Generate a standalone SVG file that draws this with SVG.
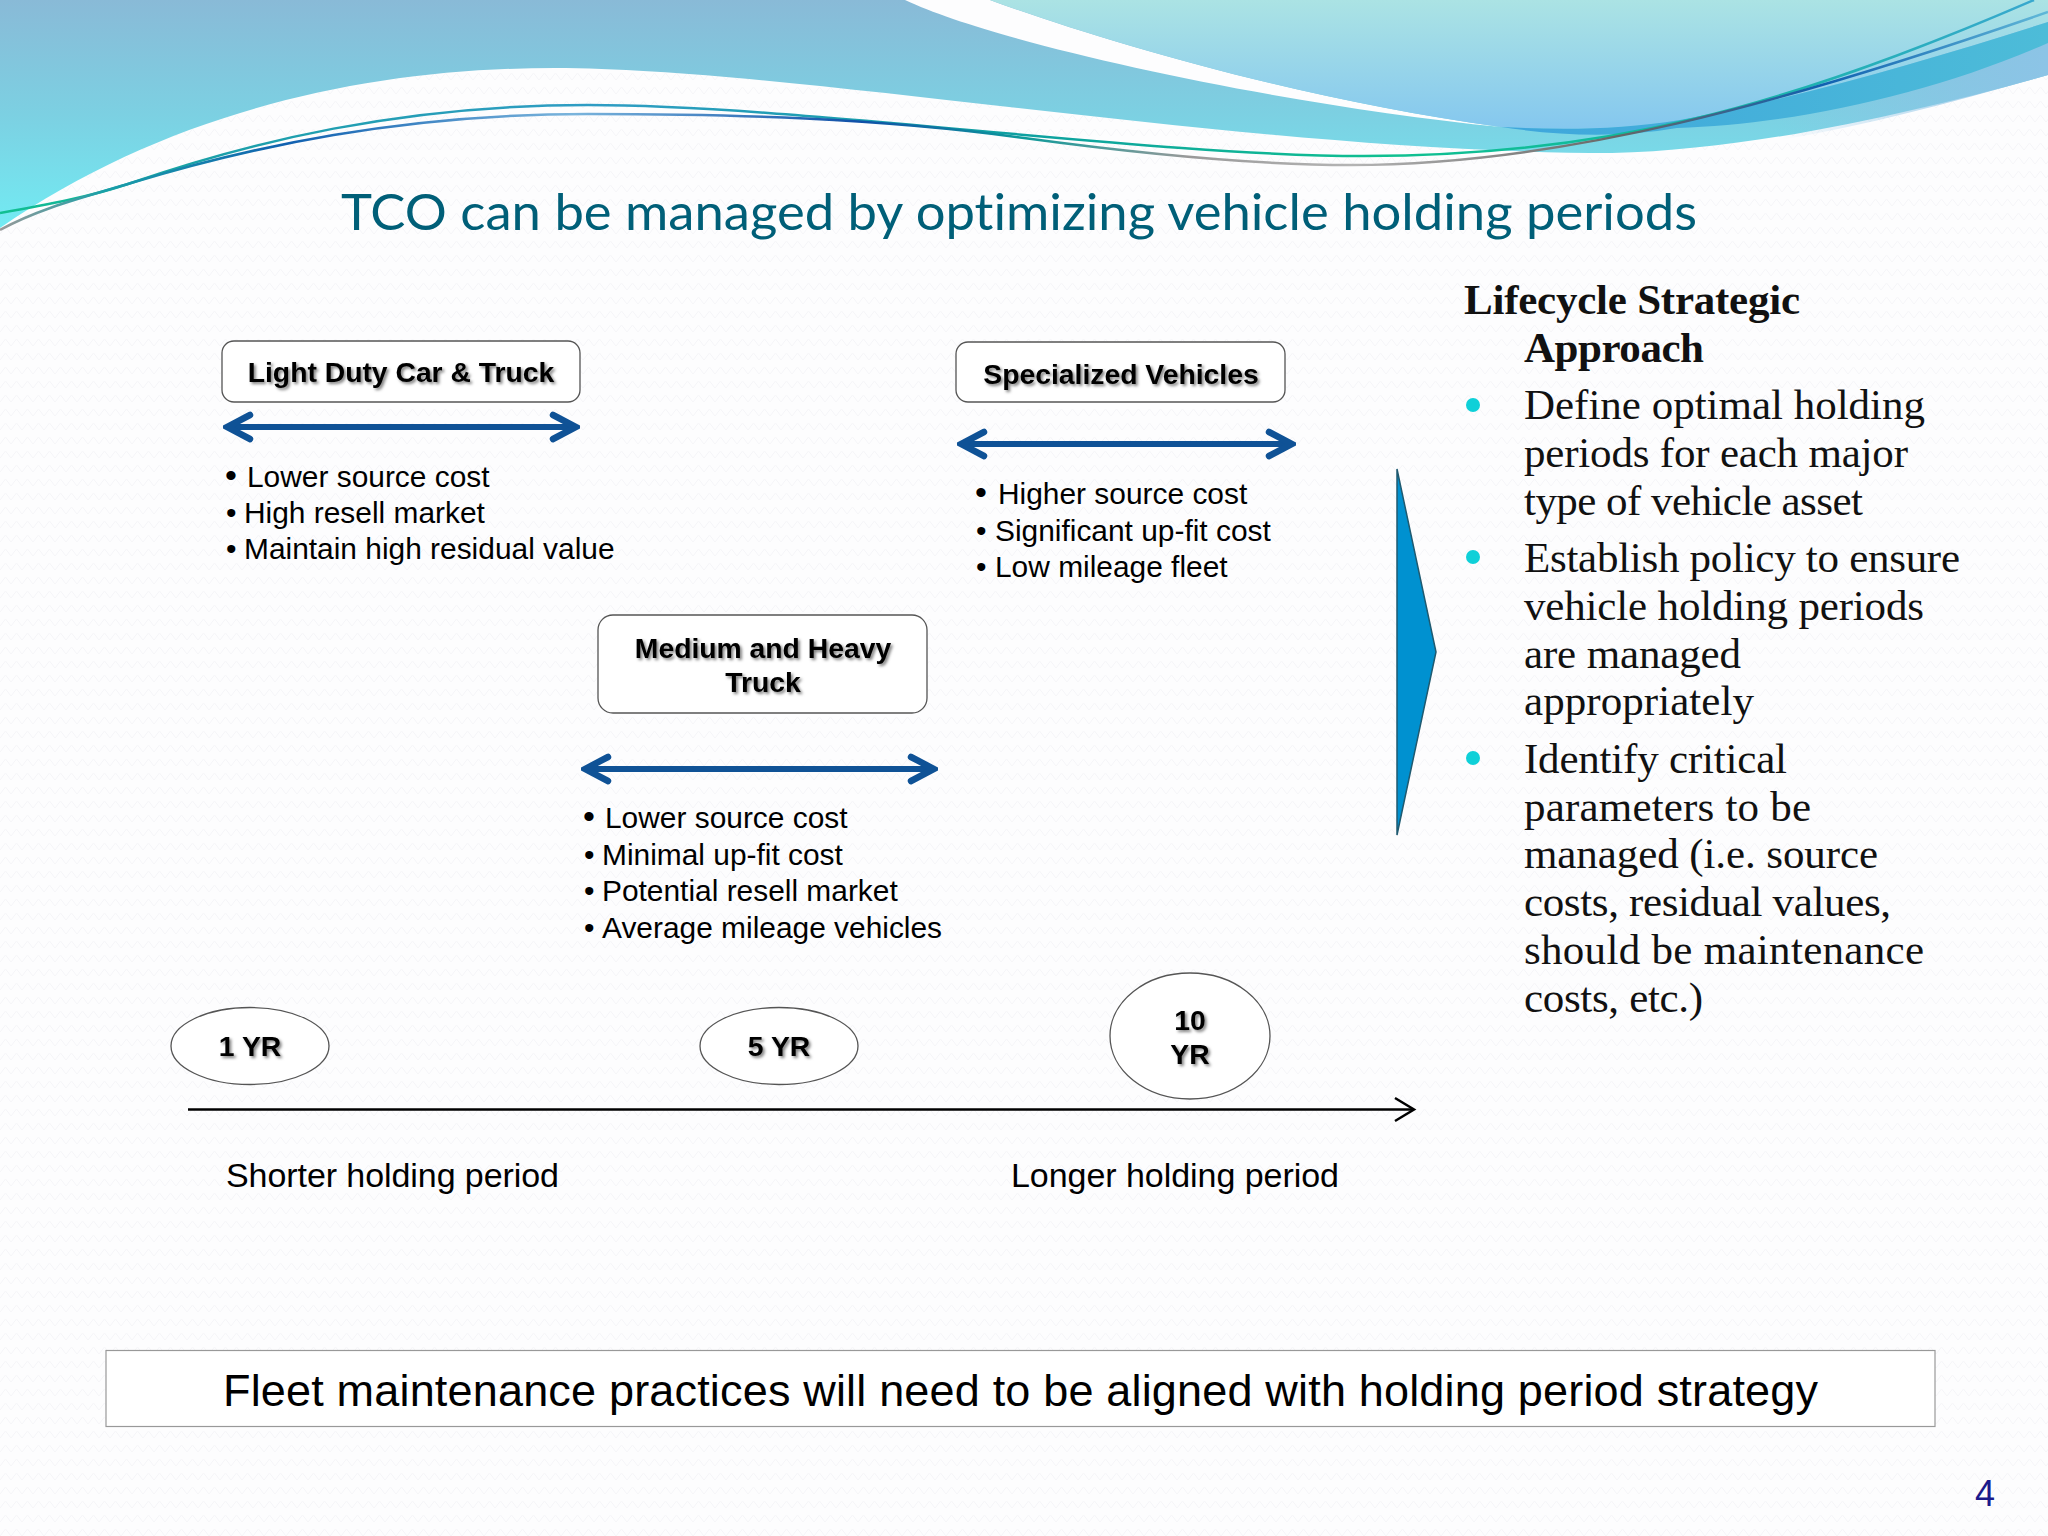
<svg xmlns="http://www.w3.org/2000/svg" width="2048" height="1536" viewBox="0 0 2048 1536">
<style>
.a{font-family:"Liberation Sans",Arial,sans-serif;fill:#000}
.l{font-size:29.9px}
.bb{font-size:34px}
.b{font-size:28.3px;font-weight:700;text-anchor:middle;filter:url(#ts)}
.s{font-family:"Liberation Serif","Times New Roman",serif;font-size:43px;fill:#111}
.box{fill:#fff;stroke:#555;stroke-width:1.3}
.arrow{fill:none;stroke:#0f5296;stroke-width:6;marker-start:url(#chev);marker-end:url(#chev)}
.dot{fill:#0fd0d8}
</style>
<defs>
<filter id="ts" x="-10%" y="-20%" width="125%" height="150%"><feDropShadow dx="2" dy="2" stdDeviation="1.4" flood-color="#000" flood-opacity=".5"/></filter>
<pattern id="zz" width="22" height="14" patternUnits="userSpaceOnUse"><path d="M0 10 L5.500 3 L11 10 L16.500 3 L22 10" fill="none" stroke="#f5f5f8" stroke-width="1"/></pattern>
<linearGradient id="g1" gradientUnits="userSpaceOnUse" x1="0" y1="0" x2="0" y2="228"><stop offset="0" stop-color="#89bad7"/><stop offset=".5" stop-color="#7cd0e2"/><stop offset="1" stop-color="#72ebf3"/></linearGradient>
<linearGradient id="g1r" gradientUnits="userSpaceOnUse" x1="1780" y1="0" x2="2048" y2="0"><stop offset="0" stop-color="#8cc4e6" stop-opacity="0"/><stop offset="1" stop-color="#8cc4e6"/></linearGradient>
<linearGradient id="g2" gradientUnits="userSpaceOnUse" x1="0" y1="0" x2="0" y2="135"><stop offset="0" stop-color="#abe3e4"/><stop offset="1" stop-color="#83c6ef"/></linearGradient>
<linearGradient id="g3" gradientUnits="userSpaceOnUse" x1="1500" y1="0" x2="2048" y2="0"><stop offset="0" stop-color="#3ea6dc"/><stop offset="1" stop-color="#4dbcd8"/></linearGradient>
<linearGradient id="ln1" gradientUnits="userSpaceOnUse" x1="0" y1="0" x2="2048" y2="0"><stop offset="0" stop-color="#10c090"/><stop offset=".1" stop-color="#1aa0a8"/><stop offset=".29" stop-color="#2f9cc4"/><stop offset=".5" stop-color="#0da0a0"/><stop offset=".68" stop-color="#10c090"/><stop offset=".82" stop-color="#10b8a0"/><stop offset="1" stop-color="#3aa8d0"/></linearGradient>
<linearGradient id="ln2" gradientUnits="userSpaceOnUse" x1="0" y1="0" x2="2048" y2="0"><stop offset="0" stop-color="#999"/><stop offset=".05" stop-color="#1aa0a8"/><stop offset=".14" stop-color="#1060b0"/><stop offset=".28" stop-color="#7ab4dc"/><stop offset=".42" stop-color="#1050a8"/><stop offset=".5" stop-color="#0d9a9a"/><stop offset=".58" stop-color="#999"/><stop offset=".66" stop-color="#b4b4b4"/><stop offset=".79" stop-color="#666"/><stop offset=".89" stop-color="#1060b0"/><stop offset="1" stop-color="#60b8d8"/></linearGradient>
<marker id="chev" viewBox="0 0 32 32" refX="28" refY="16" markerWidth="32" markerHeight="32" markerUnits="userSpaceOnUse" orient="auto-start-reverse"><path d="M5 4 L28 16 L5 28" fill="none" stroke="#0f5296" stroke-width="6.500" stroke-linecap="round"/></marker>
</defs>
<rect width="2048" height="1536" fill="#fdfdfe"/>
<rect width="2048" height="1536" fill="url(#zz)"/>
<g id="banner">
<path d="M0 0H2048V75C1930 108 1760 150 1612 153C1250 153 800 68 555 68C370 68 170 110 0 228Z" fill="url(#g1)"/>
<path d="M1780 0H2048V75C1960 100 1870 125 1780 140Z" fill="url(#g1r)"/>
<path d="M905 0C1000 45 1280 105 1501 127C1300 100 1100 40 990 0Z" fill="#fdfdfe"/>
<path d="M990 0H2048V22C1930 60 1790 100 1680 120C1620 130 1560 130 1501 127C1300 100 1100 40 990 0Z" fill="url(#g2)"/>
<path d="M1501 127C1560 130 1620 130 1680 120C1790 100 1930 60 2048 22V43C1930 95 1790 125 1677 128C1620 138 1560 136 1501 127Z" fill="url(#g3)"/>
<path d="M0 213C45 205 90 197 131 183C250 142 400 105 588 105C800 105 1150 156 1364 156C1600 156 1780 110 2034 0" fill="none" stroke="url(#ln1)" stroke-width="2.500"/>
<path d="M0 230C40 208 85 197 131 183C250 147 400 114 588 114C730 114 880 118 1024 138C1120 151 1240 165 1351 165C1560 165 1780 105 2048 12" fill="none" stroke="url(#ln2)" stroke-width="2.500"/>
</g>
<text id="title" x="341" y="230" font-family="Lato,'Open Sans',sans-serif" font-size="50" fill="#005f78" style="font-variant-ligatures:none" textLength="1356" lengthAdjust="spacingAndGlyphs">TCO can be managed by optimizing vehicle holding periods</text>

<g id="connectors">
<line class="arrow" x1="227" y1="427" x2="576" y2="427"/>
<line class="arrow" x1="961" y1="444" x2="1292" y2="444"/>
<line class="arrow" x1="585" y1="769" x2="934" y2="769"/>
<g id="axis" fill="none" stroke="#000" stroke-width="2.500"><path d="M188 1109.500H1412"/><path d="M1395 1098L1414 1109.500L1395 1121"/></g>
</g>

<g id="node-light">
<rect class="box" x="222" y="341" width="358" height="61" rx="12"/>
<text class="a b" x="401" y="382">Light Duty Car &amp; Truck</text>
<text class="a l"><tspan class="bb" x="225" y="487">•</tspan><tspan x="247" y="487">Lower source cost</tspan></text>
<text class="a l"><tspan x="226" y="523">•</tspan><tspan x="244" y="523">High resell market</tspan></text>
<text class="a l"><tspan x="226" y="559">•</tspan><tspan x="244" y="559">Maintain high residual value</tspan></text>
</g>
<g id="node-specialized">
<rect class="box" x="956" y="342" width="329" height="60" rx="12"/>
<text class="a b" x="1121" y="384">Specialized Vehicles</text>
<text class="a l"><tspan class="bb" x="975" y="504">•</tspan><tspan x="998" y="504">Higher source cost</tspan></text>
<text class="a l"><tspan x="976" y="541">•</tspan><tspan x="995" y="541">Significant up-fit cost</tspan></text>
<text class="a l"><tspan x="976" y="577">•</tspan><tspan x="995" y="577">Low mileage fleet</tspan></text>
</g>
<g id="node-medium">
<rect class="box" x="598" y="615" width="329" height="98" rx="15"/>
<text class="a b"><tspan x="763" y="658">Medium and Heavy</tspan><tspan x="763" y="692">Truck</tspan></text>
<text class="a l"><tspan class="bb" x="583" y="828">•</tspan><tspan x="605" y="828">Lower source cost</tspan></text>
<text class="a l"><tspan x="584" y="865">•</tspan><tspan x="602" y="865">Minimal up-fit cost</tspan></text>
<text class="a l"><tspan x="584" y="901">•</tspan><tspan x="602" y="901">Potential resell market</tspan></text>
<text class="a l"><tspan x="584" y="938">•</tspan><tspan x="602" y="938">Average mileage vehicles</tspan></text>
</g>
<g id="node-1yr"><ellipse class="box" cx="250" cy="1046" rx="79" ry="38.500"/><text class="a b" x="250" y="1056">1 YR</text></g>
<g id="node-5yr"><ellipse class="box" cx="779" cy="1046" rx="79" ry="38.500"/><text class="a b" x="779" y="1056">5 YR</text></g>
<g id="node-10yr"><ellipse class="box" cx="1190" cy="1036" rx="80" ry="63"/><text class="a b"><tspan x="1190" y="1030">10</tspan><tspan x="1190" y="1064">YR</tspan></text></g>

<text class="a" x="226" y="1187" font-size="34" textLength="333">Shorter holding period</text>
<text class="a" x="1011" y="1187" font-size="34" textLength="328">Longer holding period</text>

<polygon id="chevron" points="1397,469 1436,652 1397,835" fill="#0091d0" stroke="#1f5a70" stroke-width="1.500"/>

<g id="strategy">
<text class="s" x="1464" y="314" font-weight="700" textLength="336">Lifecycle Strategic</text>
<text class="s" x="1524" y="362" font-weight="700" textLength="180">Approach</text>
<circle class="dot" cx="1473" cy="405" r="7"/>
<text class="s" x="1524" y="419" textLength="401">Define optimal holding</text>
<text class="s" x="1524" y="467" textLength="384">periods for each major</text>
<text class="s" x="1524" y="515" textLength="339">type of vehicle asset</text>
<circle class="dot" cx="1473" cy="557" r="7"/>
<text class="s" x="1524" y="572" textLength="436">Establish policy to ensure</text>
<text class="s" x="1524" y="620" textLength="400">vehicle holding periods</text>
<text class="s" x="1524" y="668" textLength="217">are managed</text>
<text class="s" x="1524" y="715" textLength="230">appropriately</text>
<circle class="dot" cx="1473" cy="758" r="7"/>
<text class="s" x="1524" y="773" textLength="263">Identify critical</text>
<text class="s" x="1524" y="821" textLength="287">parameters to be</text>
<text class="s" x="1524" y="868" textLength="354">managed (i.e. source</text>
<text class="s" x="1524" y="916" textLength="367">costs, residual values,</text>
<text class="s" x="1524" y="964" textLength="400">should be maintenance</text>
<text class="s" x="1524" y="1012" textLength="179">costs, etc.)</text>
</g>

<g id="footer-box">
<rect x="106" y="1350.500" width="1829" height="76" fill="#fff" stroke="#999" stroke-width="1.200"/>
<text class="a" x="223" y="1406" font-size="45" textLength="1595">Fleet maintenance practices will need to be aligned with holding period strategy</text>
</g>
<text id="page-number" x="1985" y="1506" font-family="'Liberation Sans',Arial,sans-serif" font-size="36" text-anchor="middle" fill="#1a1a8c">4</text>
</svg>
